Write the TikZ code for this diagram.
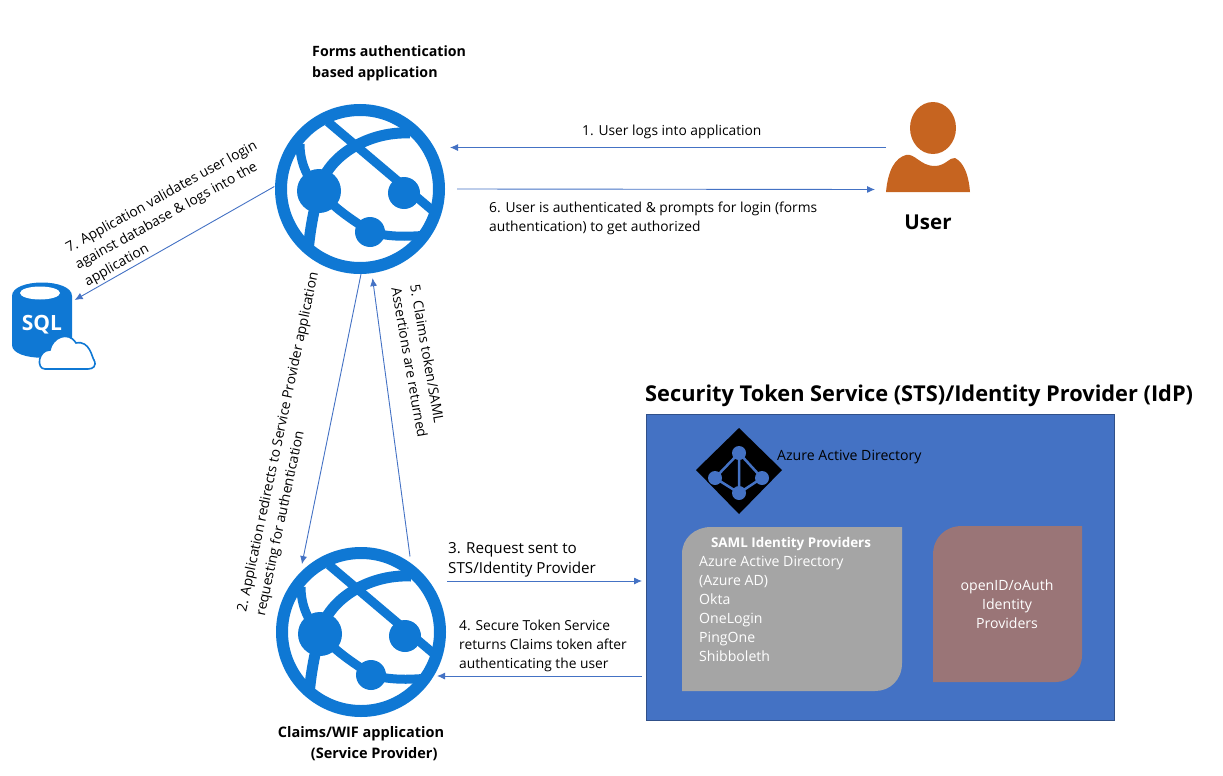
\documentclass[tikz,border=0pt]{standalone}
\usepackage{fontspec}
\setmainfont{Open Sans}
\usetikzlibrary{arrows.meta}
\definecolor{flowblue}{HTML}{4472C4}
\definecolor{iconblue}{HTML}{0F78D4}
\definecolor{usercol}{HTML}{C66420}
\definecolor{samlgray}{HTML}{A5A5A5}
\definecolor{oauthcol}{HTML}{9A7577}
\tikzset{
    flow/.style={draw=flowblue,line width=0.9pt,-{Latex[length=8pt,width=7pt]}},
    iconspot/.style={circle,minimum size=180pt,inner sep=0pt,outer sep=0pt},
    txt/.style={font=\fontsize{13.8}{19}\selectfont,inner sep=0pt,align=left},
    heading/.style={font=\bfseries\fontsize{14.2}{21}\selectfont,inner sep=0pt,align=left},
    whitetxt/.style={txt,text=white,font=\fontsize{14.1}{19}\selectfont},
    globe/.pic={
        \draw[iconblue,line width=12pt] (0,0) circle (79);
        \fill[iconblue] (-41,2) circle (22) (44,4) circle (16) (10,43) circle (15);
        \draw[iconblue,line width=9pt] (-32,-67) -- (72,21);
        \draw[iconblue,line width=11pt] (50,-56) .. controls (5,-58) and (-35,-30) .. (-41,2);
        \draw[iconblue,line width=9pt] (-60,-45) .. controls (-60,-25) and (-52,-10) .. (-41,2);
        \draw[iconblue,line width=11pt] (-41,2) .. controls (-46,20) and (-50,40) .. (-52,63);
        \draw[iconblue,line width=9pt] (-41,2) .. controls (-20,25) and (0,35) .. (10,43) .. controls (30,48) and (45,48) .. (68,46);
    }
}
\begin{document}
\begin{tikzpicture}[x=1pt,y=-1pt]
    \useasboundingbox (0,0) rectangle (1223,776);
    %% icon places
    \node[iconspot] (webapp) at (360,189) {};
    \node[iconspot] (claimsapp) at (361,632) {};
    \node[minimum width=84pt,minimum height=89pt,inner sep=0pt,outer sep=0pt] (user) at (928,147.5) {};
    \node[circle,minimum size=66pt,inner sep=0pt,outer sep=0pt] (sql) at (47,318) {};
    %% sts box
    \node[draw=flowblue!70!black,fill=flowblue,minimum width=468pt,minimum height=306pt,inner sep=0pt,outer sep=0pt] (sts) at (880,567) {};
    \node[heading,font=\bfseries\fontsize{21.8}{28}\selectfont,anchor=west] (ststitle) at (645,396) {Security Token Service (STS)/Identity Provider (IdP)};
    %% flows
    \draw[flow] (user.west) -- (user.west -| webapp.east);
    \draw[flow] ([xshift=7pt]webapp.east) -- ([shift={(-11pt,-42pt)}]user.west);
    \draw[flow,shorten <=-5pt] (webapp.180) -- (sql.33);
    \draw[flow,shorten <=-5pt] (webapp.south) -- (claimsapp.131);
    \draw[flow] (claimsapp.57) -- (webapp.278);
    \draw[flow] ([shift={(-4pt,51pt)}]claimsapp.east) -- ([shift={(-4pt,-14pt)}]sts.west);
    \draw[flow] ([shift={(-4pt,-109pt)}]sts.west) -- ([shift={(-14pt,-44pt)}]claimsapp.east);
    %% globes
    \pic at (webapp) {globe};
    \pic at (claimsapp) {globe};
    %% user
    \fill[usercol] (933,128) ellipse (23 and 26);
    \fill[usercol] (886,192) .. controls (888,170) and (895,158) .. (906,155) .. controls (915,153) and (920,166) .. (935,166) .. controls (945,166) and (950,157) .. (955,158) .. controls (965,163) and (969,178) .. (970,192) -- cycle;
    \node[heading,font=\bfseries\fontsize{20.5}{26}\selectfont] (userlabel) at (928,222) {User};
    %% sql
    \fill[iconblue] (12,296) .. controls (12,278) and (72,278) .. (72,296) -- (72,345) .. controls (72,362) and (12,362) .. (12,345) -- cycle;
    \fill[white] (40,293) ellipse (20 and 6.5);
    \node[font=\bfseries\fontsize{21}{24}\selectfont,text=white,inner sep=0pt] (sqllabel) at (42,325) {SQL};
    \draw[iconblue,fill=white,line width=1.6pt] (45,369) .. controls (36,369) and (38,350) .. (50,350) .. controls (52,338) and (68,330) .. (76,343) .. controls (90,340) and (92,358) .. (94,360) .. controls (97,366) and (93,369) .. (88,369) -- cycle;
    %% azure ad
    \fill[black] (739,428) -- (782,470) -- (739,514) -- (696,470) -- cycle;
    \draw[flowblue,line width=2.5pt] (739,453) -- (715,478) -- (739,493) -- (762,478) -- cycle (739,453) -- (739,493);
    \fill[flowblue] (739,453) circle (7) (715,478) circle (7) (762,478) circle (7) (739,493) circle (7);
    \node[txt,anchor=west,font=\fontsize{14.1}{19}\selectfont] (aadlabel) at (777,457) {Azure Active Directory};
    %% provider boxes
    \fill[samlgray] (682,691) -- (682,554) .. controls (682,538) and (695,527) .. (711,527) -- (902,527) -- (902,663) .. controls (902,680) and (890,691) .. (875,691) -- cycle;
    \fill[oauthcol] (933,682) -- (933,555) .. controls (933,538) and (945,526) .. (962,526) -- (1082,526) -- (1082,655) .. controls (1082,671) and (1070,682) .. (1056,682) -- cycle;
    \node[whitetxt,anchor=north,align=center,font=\bfseries\fontsize{13.4}{19}\selectfont] (samltitle) at (791,537) {SAML Identity Providers};
    \node[whitetxt,anchor=north west] (samllist) at (699,556) {Azure Active Directory\\(Azure AD)\\Okta\\OneLogin\\PingOne\\Shibboleth};
    \node[whitetxt,align=center] (oauthlabel) at (1007,604) {openID/oAuth\\Identity\\Providers};
    %% labels
    \node[heading,anchor=north west] (webapplabel) at (312,46) {Forms authentication\\based application};
    \node[heading,align=center,font=\bfseries\fontsize{14.5}{21}\selectfont] (claimslabel) at (361,744) {Claims/WIF application\\\ \ \ \ \ \ \ (Service Provider)};
    \node[txt,anchor=west] (flowa) at (582,132) {1. User logs into application};
    \node[txt,anchor=north west] (flowf) at (489,202) {6. User is authenticated \& prompts for login (forms\\authentication) to get authorized};
    \node[txt,anchor=west,font=\fontsize{15.2}{20}\selectfont] (flowc) at (448,560) {3. Request sent to\\STS/Identity Provider};
    \node[txt,anchor=north west] (flowd) at (459,620) {4. Secure Token Service\\returns Claims token after\\authenticating the user};
    \node[txt,rotate=29] (flowg) at (171,214) {7. Application validates user login\\against database \& logs into the\\application};
    \node[txt,rotate=78] (flowb) at (288,444) {2. Application redirects to Service Provider application\\requesting for authentication};
    \node[txt,rotate=-80] (flowe) at (419,361) {5. Claims token/SAML\\Assertions are returned};
\end{tikzpicture}
\end{document}
